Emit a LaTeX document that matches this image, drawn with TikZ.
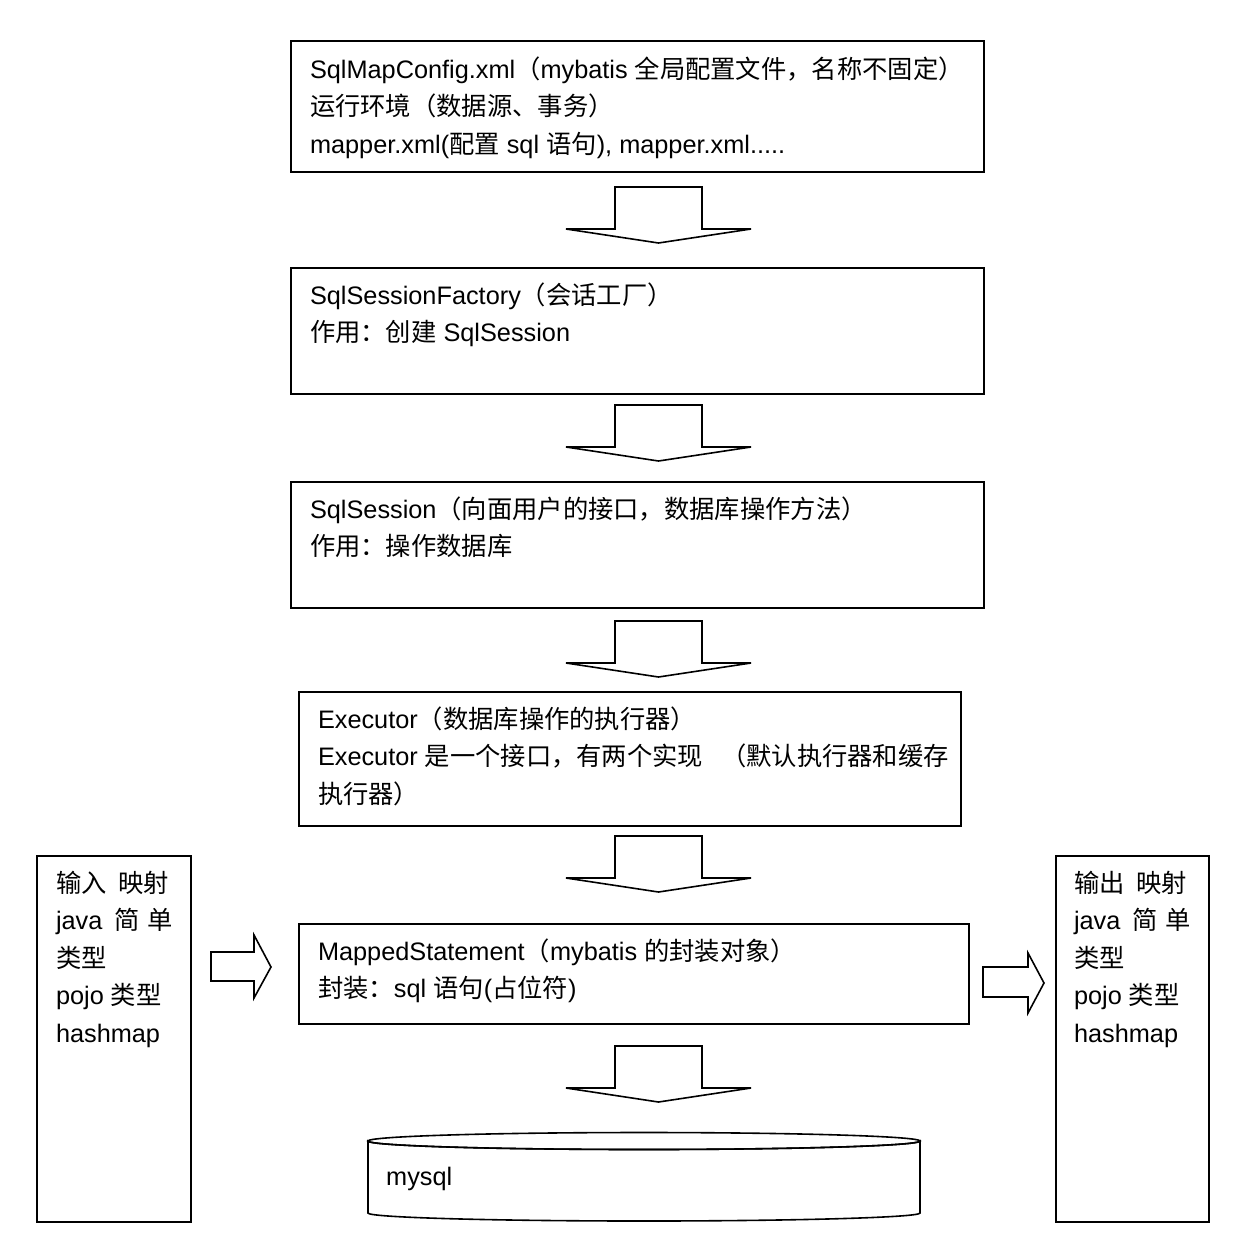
\documentclass[tikz,border=0pt]{standalone}
\usepackage{fontspec}
\setmainfont{Liberation Sans}
\newfontfamily\cjk{Noto Sans CJK SC}
\newcommand\zh[1]{{\cjk #1}}
\newcommand\firstln{\rule{0pt}{23pt}}
\begin{document}
\begin{tikzpicture}[x=1pt,y=-1pt,
  box/.style={draw, line width=1.6pt, anchor=north west, inner sep=0pt, outer sep=0pt},
  txt/.style={anchor=north west, inner sep=0pt, outer sep=0pt, align=left,
    font=\fontsize{25.3}{37.5}\selectfont},
  blockarrow/.style={draw, line width=1.6pt, line join=miter, fill=white}]
\useasboundingbox (0,0) rectangle (1246,1242);

% main boxes
\node[box, minimum width=693pt, minimum height=131pt] (b1) at (291,41) {};
\node[box, minimum width=693pt, minimum height=126pt] (b2) at (291,268) {};
\node[box, minimum width=693pt, minimum height=126pt] (b3) at (291,482) {};
\node[box, minimum width=662pt, minimum height=134pt] (b4) at (299,692) {};
\node[box, minimum width=670pt, minimum height=100pt] (b5) at (299,924) {};
\node[box, minimum width=154pt, minimum height=366pt] (bl) at (37,856) {};
\node[box, minimum width=153pt, minimum height=366pt] (br) at (1056,856) {};

% texts
\node[txt] (t1) at (310,55) {\firstln SqlMapConfig.xml\zh{（}mybatis \zh{全局配置文件，名称不固定）}\\
\zh{运行环境（数据源、事务）}\\
mapper.xml(\zh{配置} sql \zh{语句}), mapper.xml.....};
\node[txt] (t2) at (310,281) {\firstln SqlSessionFactory\zh{（会话工厂）}\\
\zh{作用：创建} SqlSession};
\node[txt] (t3) at (310,495) {\firstln SqlSession\zh{（向面用户的接口，数据库操作方法）}\\
\zh{作用：操作数据库}};
\node[txt] (t4) at (318,705) {\firstln Executor\zh{（数据库操作的执行器）}\\
Executor \zh{是一个接口，有两个实现}\hspace{18pt}\zh{（默认执行器和缓存}\\
\zh{执行器）}};
\node[txt] (t5) at (318,937) {\firstln MappedStatement\zh{（}mybatis \zh{的封装对象）}\\
\zh{封装：}sql \zh{语句}(\zh{占位符})};
\node[txt] (tl) at (56,869) {\firstln \zh{输入}\hspace{12pt}\zh{映射}\\
java\hspace{12pt}\zh{简}\hspace{8pt}\zh{单}\\
\zh{类型}\\
pojo \zh{类型}\\
hashmap};
\node[txt] (tr) at (1074,869) {\firstln \zh{输出}\hspace{12pt}\zh{映射}\\
java\hspace{12pt}\zh{简}\hspace{8pt}\zh{单}\\
\zh{类型}\\
pojo \zh{类型}\\
hashmap};

% database cylinder
\draw[line width=1.6pt, fill=white]
  (368,1141) -- (368,1213) arc[start angle=180, end angle=360, x radius=276pt, y radius=8pt]
  -- (920,1141) arc[start angle=0, end angle=-180, x radius=276pt, y radius=8.5pt] -- cycle;
\draw[line width=1.6pt] (644,1141) ellipse[x radius=276pt, y radius=8.5pt];
\node[anchor=base west, inner sep=0pt, font=\fontsize{25.3}{30}\selectfont] (db) at (386,1185) {mysql};

% block arrows (down)
\foreach \yt in {187,405,621,836,1046}{
  \draw[blockarrow] (615,\yt) -- (702,\yt) -- (702,\yt+42) -- (751,\yt+42)
    -- (658.5,\yt+56) -- (566,\yt+42) -- (615,\yt+42) -- cycle;
}
% block arrows (right)
\draw[blockarrow] (211,952) -- (254,952) -- (254,935) -- (271,967) -- (254,998)
  -- (254,981) -- (211,981) -- cycle;
\draw[blockarrow] (983,967) -- (1028,967) -- (1028,953) -- (1044,983) -- (1028,1013)
  -- (1028,997) -- (983,997) -- cycle;
\end{tikzpicture}
\end{document}
